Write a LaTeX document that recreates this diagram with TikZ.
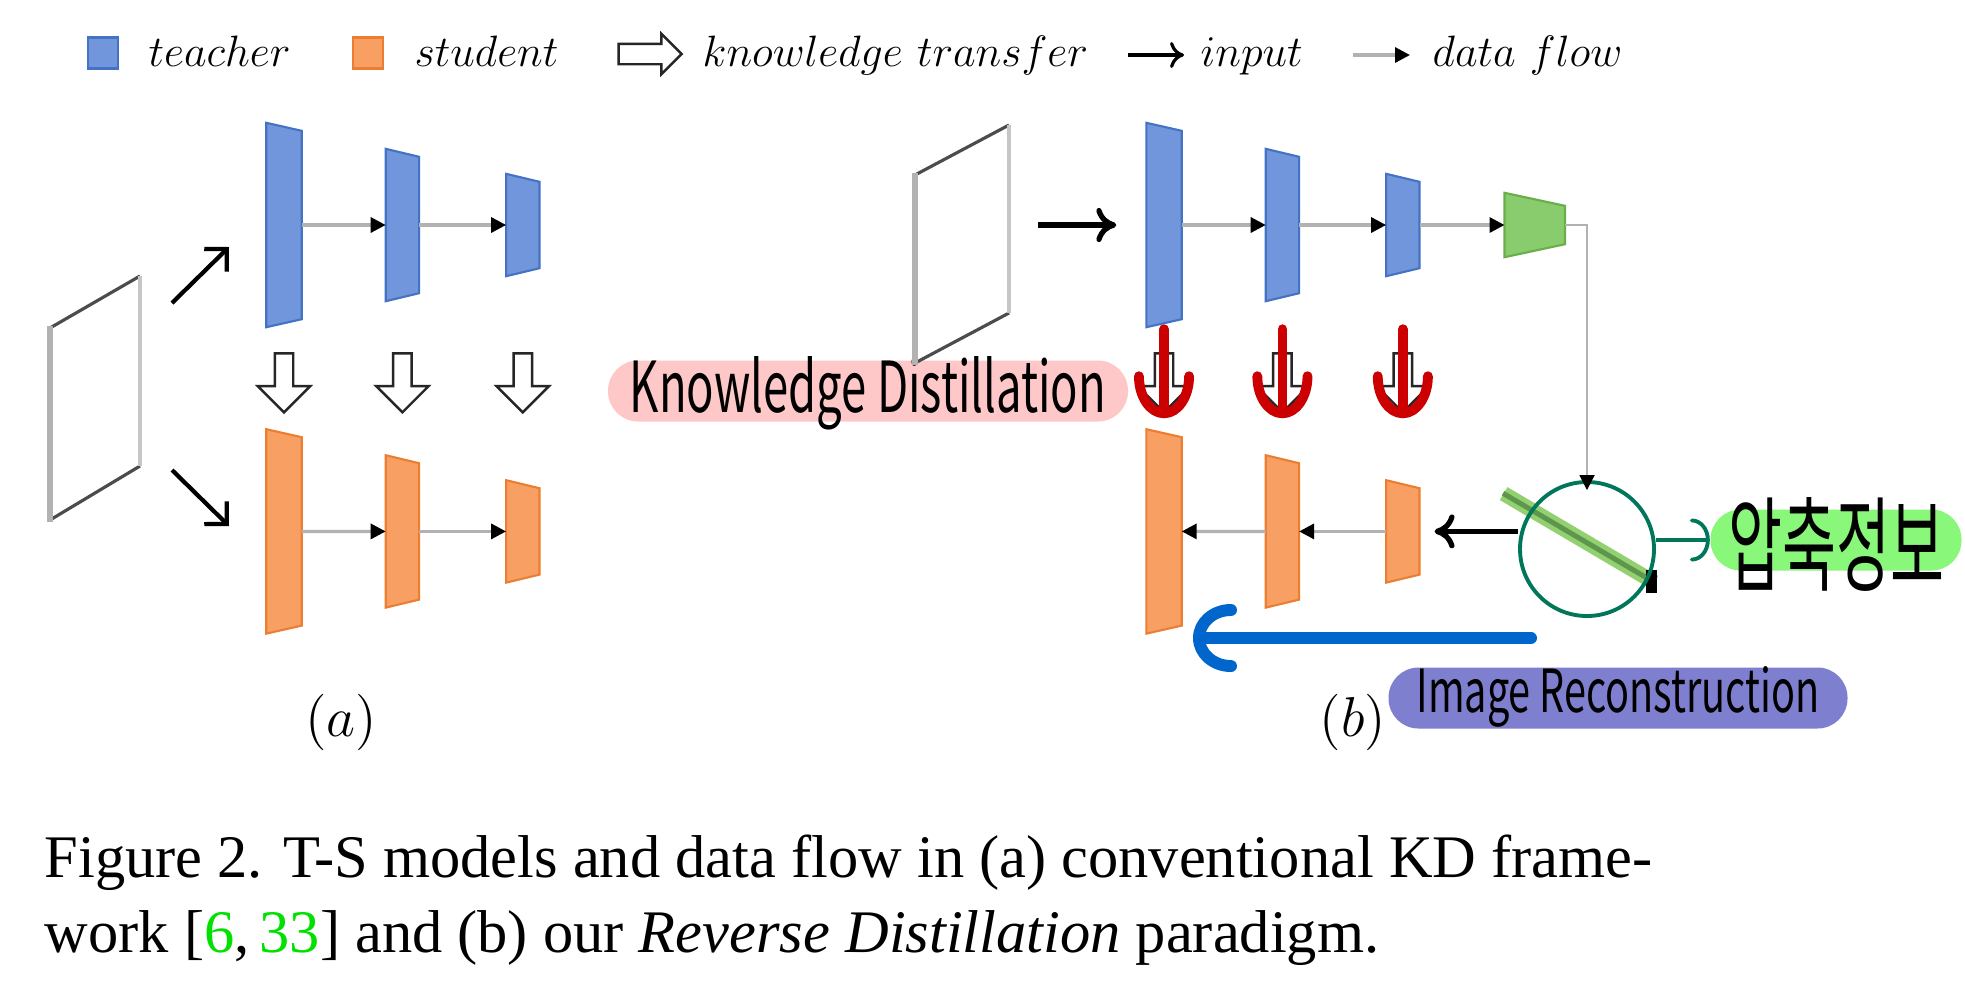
\RequirePackage{fix-cm}
\documentclass[tikz,border=0pt]{standalone}
\usepackage{fontspec}
\usepackage{graphicx}
\usetikzlibrary{arrows.meta,positioning,shapes.arrows,calc}
\newfontfamily\capfont{Liberation Serif}
\newfontfamily\handfont{Noto Sans CJK KR}
\definecolor{tfill}{RGB}{114,150,220}
\definecolor{tline}{RGB}{68,114,196}
\definecolor{sfill}{RGB}{248,160,100}
\definecolor{sline}{RGB}{237,125,49}
\definecolor{gfill}{RGB}{137,204,110}
\definecolor{gline}{RGB}{106,174,74}
\definecolor{barlight}{RGB}{146,208,112}
\definecolor{bardark}{RGB}{94,150,78}
\definecolor{kdpink}{RGB}{255,200,200}
\definecolor{irpurple}{RGB}{127,127,208}
\definecolor{krgreen}{RGB}{136,247,122}
\definecolor{kdred}{RGB}{204,0,0}
\definecolor{recblue}{RGB}{0,102,204}
\definecolor{embteal}{RGB}{0,119,90}
\definecolor{citegreen}{RGB}{0,225,0}

\begin{document}
\begin{tikzpicture}[
    x=0.1mm, y=-0.1mm,
    blk/.style={rectangle,inner sep=0pt,minimum width=3.2mm},
    teacher/.style={fill=tfill,draw=tline,line width=0.6pt},
    student/.style={fill=sfill,draw=sline,line width=0.6pt},
    kt/.style={single arrow,draw=black!85,fill=white,line width=0.7pt,inner xsep=0pt,inner ysep=0.8mm,single arrow head extend=1.7mm,single arrow tip angle=90,minimum height=5.9mm},
    flow/.style={draw=gray!60,line width=0.9pt,-{Triangle[length=1.5mm,width=1.5mm,color=black,fill=black]}},
    feed/.style={line width=1.2pt,-{Straight Barb[length=1.6mm,width=3.2mm]}},
    feedb/.style={line width=1.5pt,-{Computer Modern Rightarrow[length=2mm,width=3.4mm]}},
    pedge/.style={draw=black!70,line width=0.9pt},
    pleft/.style={draw=gray!60,line width=1.6pt},
    pright/.style={draw=gray!45,line width=0.9pt},
    pill/.style={rounded corners=3mm,inner sep=0pt,minimum height=6.1mm},
    kdarr/.style={draw=kdred,line width=2.8pt,line cap=round,-{Arc Barb[length=4.2mm,width=6mm,round]}},
    recarr/.style={draw=recblue,line width=3.4pt,line cap=round,-{Arc Barb[length=3.8mm,width=6.8mm,round]}},
    tealarr/.style={draw=embteal,line width=1.1pt,-{Arc Barb[length=1.8mm,width=4.3mm,round]}},
    lgtext/.style={anchor=base west,inner sep=0pt,font=\fontsize{12.5}{15}\selectfont},
    sublabel/.style={font=\fontsize{16}{19}\selectfont},
    capnode/.style={anchor=base west,inner sep=0pt,font=\capfont\fontsize{17.2}{20}\selectfont}
]
\useasboundingbox (0,0) rectangle (1965,1000);
\fill[white] (0,0) rectangle (1965,1000);

% Legend
\node[blk,minimum width=3mm,minimum height=3.1mm,teacher] (lgt) at (103,53) {};
\node[lgtext] (lgtt) at (148,66) {$teacher$};
\node[blk,minimum width=3mm,minimum height=3.1mm,student] (lgs) at (368,53) {};
\node[lgtext] (lgst) at (414,66) {$student$};
\node[kt,minimum height=6.3mm,inner ysep=0.9mm,single arrow head extend=1mm] (lgk) at (645,54) {};
\node[lgtext] (lgkt) at (702,66) {$knowledge\ transfer$};
\coordinate (lgi0) at (1128,55);
\coordinate (lgi1) at (1184,55);
\draw[line width=0.9pt,-{Computer Modern Rightarrow[length=1.4mm,width=2.6mm]}] (lgi0) -- (lgi1);
\node[lgtext] (lgit) at (1200,66) {$input$};
\coordinate (lgf0) at (1353,55);
\coordinate (lgf1) at (1410,55);
\draw[flow] (lgf0) -- (lgf1);
\node[lgtext] (lgft) at (1432,66) {$data\ flow$};

% Annotation behind the images
\node[pill,fill=kdpink,minimum width=52mm] (kd) at (868,391)
    {\raisebox{-2.15mm}[0pt][0pt]{\resizebox{47.6mm}{5.6mm}{\handfont Knowledge Distillation}}};

% (a) blocks
\node[blk,minimum width=3.4mm,minimum height=20.3mm] (ta1) at (284,225) {};
\node[blk,minimum height=15.1mm,right=8.4mm of ta1] (ta2) {};
\node[blk,minimum height=10.1mm,right=8.7mm of ta2] (ta3) {};
\node[blk,minimum width=3.4mm,minimum height=20.3mm,below=10.2mm of ta1] (sa1) {};
\node[blk,minimum height=15.1mm,below=15.4mm of ta2] (sa2) {};
\node[blk,minimum height=10.1mm,below=20.4mm of ta3] (sa3) {};

% (b) blocks
\node[blk,minimum width=3.4mm,minimum height=20.3mm] (tb1) at (1164,225) {};
\node[blk,minimum height=15.1mm,right=8.4mm of tb1] (tb2) {};
\node[blk,minimum height=10.1mm,right=8.7mm of tb2] (tb3) {};
\node[blk,minimum width=5.9mm,minimum height=6.3mm,right=8.5mm of tb3] (oc) {};
\node[blk,minimum width=3.4mm,minimum height=20.3mm,below=10.2mm of tb1] (sb1) {};
\node[blk,minimum height=15.1mm,below=15.4mm of tb2] (sb2) {};
\node[blk,minimum height=10.1mm,below=20.4mm of tb3] (sb3) {};

\foreach \n in {ta1,ta2,ta3,tb1,tb2,tb3}
    \filldraw[teacher] (\n.north west) -- ([yshift=-0.8mm]\n.north east) -- ([yshift=0.8mm]\n.south east) -- (\n.south west) -- cycle;
\foreach \n in {sa1,sa2,sa3,sb1,sb2,sb3}
    \filldraw[student] (\n.north west) -- ([yshift=-0.8mm]\n.north east) -- ([yshift=0.8mm]\n.south east) -- (\n.south west) -- cycle;
\filldraw[fill=gfill,draw=gline,line width=0.6pt] (oc.north west) -- ([yshift=-1.3mm]oc.north east) -- ([yshift=1.3mm]oc.south east) -- (oc.south west) -- cycle;

% data flow
\foreach \a/\b in {ta1/ta2,ta2/ta3,sa1/sa2,sa2/sa3,tb1/tb2,tb2/tb3,tb3/oc,sb3/sb2,sb2/sb1}
    \draw[flow] (\a) -- (\b);

% knowledge transfer
\foreach \p in {a,b}{
    \foreach \i in {1,2,3}{
        \node[kt,rotate=-90] (k\p\i) at ($(t\p\i.south)!0.5!(s\p\i.north)$) {};
    }
}

% input images
\draw[pedge] (50,328) -- (140,276);
\draw[pedge] (50,520) -- (140,466);
\draw[pright] (140,276) -- (140,466);
\draw[pleft] (50,326) -- (50,522);
\draw[pedge] (915,175) -- (1009,125);
\draw[pedge] (915,363) -- (1009,313);
\draw[pright] (1009,125) -- (1009,313);
\draw[pleft] (915,173) -- (915,365);

\coordinate (ua0) at (172,303);
\coordinate (ua1) at (229,247);
\coordinate (da0) at (172,470);
\coordinate (da1) at (229,526);
\draw[feed] (ua0) -- (ua1);
\draw[feed] (da0) -- (da1);
\coordinate (ib0) at (1038,225);
\draw[feedb,shorten >=3mm] (ib0) -- (tb1);

% sub labels
\node[sublabel] (la) at (341,722) {$(a)$};
\node[sublabel] (lb) at (1353,722) {$(b)$};

% bottleneck
\node[fill=barlight,minimum width=17.5mm,minimum height=1.5mm,inner sep=0pt,rotate=-30.5] (bar) at (1579,538) {};
\draw[bardark,line width=0.5mm] (bar.west) -- (bar.east);
\fill[black] ([shift={(-0.9mm,1.3mm)}]bar.east) rectangle ([shift={(0.2mm,-1mm)}]bar.east);
\node[circle,draw=embteal,line width=1.1pt,minimum size=13.4mm,inner sep=0pt] (emb) at (1587,549) {};
\draw[flow,line width=0.5pt,shorten >=-1mm] (oc) -| (emb);
\draw[feedb,shorten >=1.5mm] (emb.west |- sb3) -- (sb3);

\node[pill,fill=krgreen,minimum width=25.1mm] (kr) at (1836,540)
    {\raisebox{-4.3mm}[0pt][0pt]{\resizebox{21.6mm}{8.6mm}{\handfont 압축정보}}};
\draw[tealarr] (emb.east |- kr) -- (kr);

% distillation marks
\foreach \i in {1,2,3}
    \draw[kdarr] ([yshift=4.9mm]kb\i.center) -- ([yshift=-4mm]kb\i.center);

% reconstruction
\coordinate (rec0) at (1531,638);
\coordinate (rec1) at (1193,638);
\draw[recarr] (rec0) -- (rec1);
\node[pill,fill=irpurple,minimum width=45.9mm] (ir) at (1618,698)
    {\raisebox{-1.45mm}[0pt][0pt]{\resizebox{40.3mm}{4.6mm}{\handfont Image Reconstruction}}};

% Caption
\node[capnode] (cap1) at (44,877) {Figure 2. T-S models and data flow in (a) conventional KD frame-};
\node[capnode] (cap2) at (44,952) {work [\textcolor{citegreen}{6},\,\textcolor{citegreen}{33}] and (b) our \textit{Reverse Distillation} paradigm.};

\end{tikzpicture}
\end{document}
